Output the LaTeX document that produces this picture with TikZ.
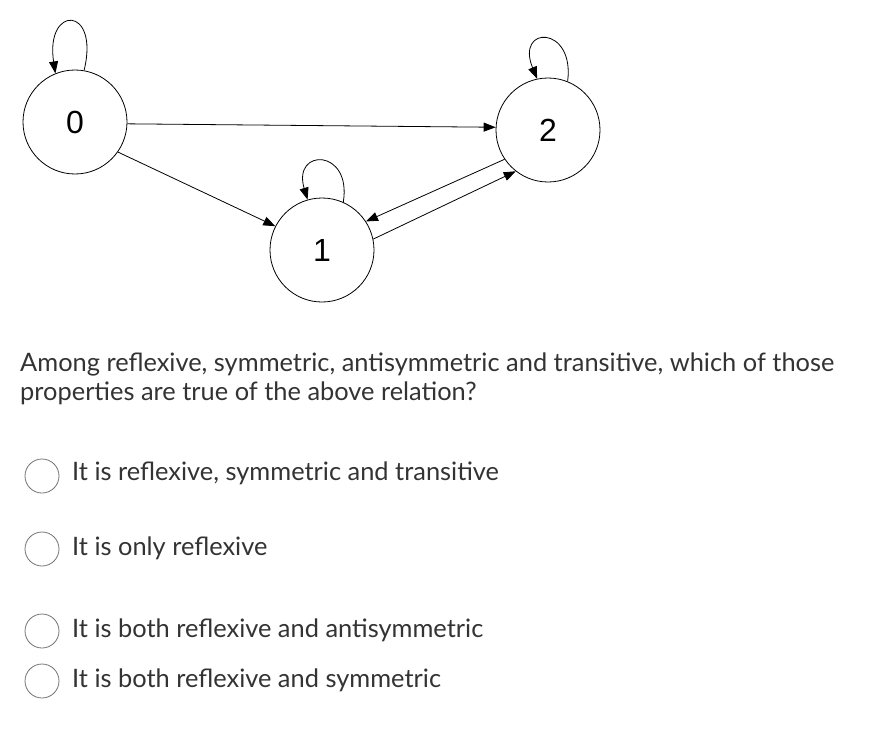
\documentclass[tikz,border=0pt]{standalone}
\usepackage{fontspec}
\setmainfont{Lato}
\newfontfamily\arial{Liberation Sans}
\usetikzlibrary{arrows.meta}
\begin{document}
\begin{tikzpicture}[x=1pt,y=-1pt,
  st/.style={circle,draw,line width=0.8pt,minimum size=104pt,inner sep=0pt,font=\arial\fontsize{32}{32}\selectfont},
  ar/.style={-{Triangle[length=12pt,width=9pt]},line width=0.8pt},
  txt/.style={anchor=west,inner sep=0pt,font=\fontsize{25.4}{30}\selectfont,text=black!80},
  radio/.style={circle,draw=black!55,line width=0.8pt,minimum size=34pt,inner sep=0pt}]
\useasboundingbox (0,0) rectangle (877,733);
\node[st] (n0) at (75,122) {0};
\node[st] (n2) at (548,130) {2};
\node[st] (n1) at (322,250) {1};
\draw[ar] (n0.80) .. controls (100,5) and (45,5) .. (n0.112);
\draw[ar] (n2.68) .. controls (575,25) and (515,25) .. (n2.102);
\draw[ar] (n1.66) .. controls (352,148) and (292,148) .. (n1.106);
\draw[ar] (n0.-2) -- (n2.177);
\draw[ar] (n0.-35) -- (n1.153);
\draw[ar] (n2.-146) -- (n1.33);
\draw[ar] (n1.12) -- (n2.-128);
\node[txt] (q1) at (20,364) {Among reflexive, symmetric, antisymmetric and transitive, which of those};
\node[txt] (q2) at (20,393) {properties are true of the above relation?};
\node[radio] (r1) at (42,476) {};
\node[radio] (r2) at (42,549) {};
\node[radio] (r3) at (42,631) {};
\node[radio] (r4) at (42,681) {};
\node[txt] (a1) at (72,473) {It is reflexive, symmetric and transitive};
\node[txt] (a2) at (72,548) {It is only reflexive};
\node[txt] (a3) at (72,630) {It is both reflexive and antisymmetric};
\node[txt] (a4) at (72,680) {It is both reflexive and symmetric};
\end{tikzpicture}
\end{document}
